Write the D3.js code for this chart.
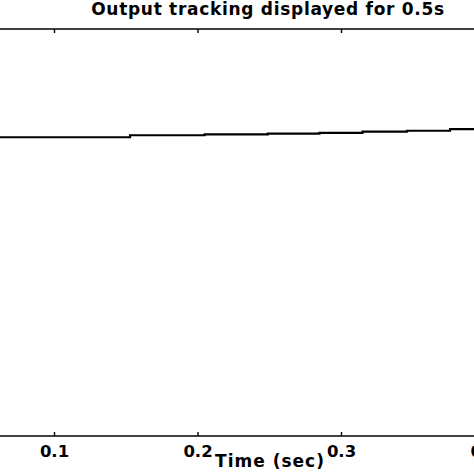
<!DOCTYPE html>
<html><head><meta charset="utf-8">
<script src="https://cdn.jsdelivr.net/npm/d3@7"></script>
<style>body{margin:0;background:#fff}svg{display:block}</style>
</head><body>
<svg id="c" width="474" height="474"></svg>
<script>
// Data
const timeValues = [0.0, 0.0624, 0.153, 0.153, 0.205, 0.205, 0.249, 0.249, 0.285, 0.285, 0.315, 0.315, 0.346, 0.346, 0.376, 0.376, 0.393, 0.41];
const outputValues = [0.734, 0.734, 0.734, 0.739, 0.739, 0.741, 0.741, 0.743, 0.743, 0.745, 0.745, 0.748, 0.748, 0.750, 0.750, 0.754, 0.754, 0.754];
const xTicks = [0.1, 0.2, 0.3, 0.4];
const titleText = "Output tracking displayed for 0.5s";
const xLabel = "Time (sec)";

const svg = d3.select("#c");
const x = d3.scaleLinear().domain([0, 0.5]).range([-89.5, 628]);
const y = d3.scaleLinear().domain([0, 1]).range([436, 29]);

const font = "'DejaVu Sans', sans-serif";

// frame top & bottom
svg.append("line").attr("x1", -10).attr("x2", 484).attr("y1", y(1)).attr("y2", y(1))
  .attr("stroke", "#000").attr("stroke-width", 1.7);
svg.append("line").attr("x1", -10).attr("x2", 484).attr("y1", y(0)).attr("y2", y(0))
  .attr("stroke", "#000").attr("stroke-width", 1.7);

// bottom axis ticks (inward) and labels
const bx = d3.axisBottom(x).tickValues(xTicks).tickSize(-4).tickSizeOuter(0).tickPadding(9)
  .tickFormat(d3.format(".1f"));
const gb = svg.append("g").attr("transform", `translate(0,${y(0)})`).call(bx);
gb.select(".domain").remove();
gb.selectAll(".tick line").attr("stroke", "#000").attr("stroke-width", 1.4);
gb.selectAll(".tick text").attr("font-family", font).attr("font-size", 16.5).attr("font-weight", "bold").attr("fill", "#000");

// top axis ticks (inward)
const tx = d3.axisTop(x).tickValues(xTicks).tickSize(-4).tickSizeOuter(0).tickFormat("");
const gt = svg.append("g").attr("transform", `translate(0,${y(1)})`).call(tx);
gt.select(".domain").remove();
gt.selectAll(".tick line").attr("stroke", "#000").attr("stroke-width", 1.4);

// line
const line = d3.line().x((d, i) => x(timeValues[i])).y(d => y(d));
svg.append("path").datum(outputValues).attr("d", line)
  .attr("fill", "none").attr("stroke", "#000").attr("stroke-width", 2.2);

// title
svg.append("text").attr("x", 268).attr("y", 15).attr("text-anchor", "middle")
  .attr("font-family", font).attr("font-size", 17).attr("font-weight", "bold")
  .attr("letter-spacing", 0.7).text(titleText);

// x label
svg.append("text").attr("x", 270).attr("y", 467).attr("text-anchor", "middle")
  .attr("font-family", font).attr("font-size", 17).attr("font-weight", "bold")
  .attr("letter-spacing", 1).text(xLabel);
</script>
</body></html>
